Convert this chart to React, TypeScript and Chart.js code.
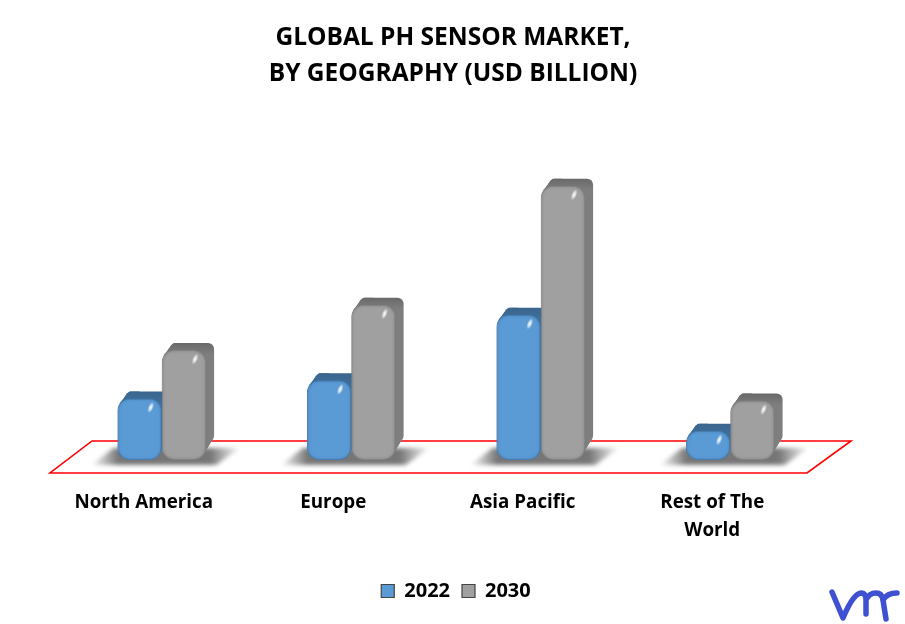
import React, { useEffect, useRef } from "react";
import { Chart, registerables } from "chart.js";

Chart.register(...registerables);

const titleLines = ["GLOBAL PH SENSOR MARKET,", "BY GEOGRAPHY (USD BILLION)"];
const categories: (string | string[])[] = ["North America", "Europe", "Asia Pacific", ["Rest of The", "World"]];
const seriesNames = ["2022", "2030"];
const values2022 = [0.61, 0.79, 1.44, 0.29];
const values2030 = [1.09, 1.54, 2.72, 0.59];
const FONT = "'Open Sans', sans-serif";
const DEPTH = 8;
const DEPTH_Y = 7;
const RADIUS = 12;

const palette = [
  { front: "#5b9bd5", edge: "#4f87ba", side: "#3f6f9b", top: "#3a658d", shade: "rgba(40,90,140,0.35)" },
  { front: "#a0a0a0", edge: "#8f8f8f", side: "#7e7e7e", top: "#696969", shade: "rgba(90,90,90,0.35)" },
];

function rr(ctx: CanvasRenderingContext2D, x: number, y: number, w: number, h: number, r: number) {
  ctx.beginPath();
  ctx.roundRect(x, y, w, h, Math.min(r, w / 2, h / 2));
}

const decor = {
  id: "decor",
  afterLayout(chart: any) {
    // title and legend sit to the right of the plot's centre in the reference
    chart.legend.left += 10;
    chart.legend.right += 10;
    chart.titleBlock.left += 7;
    chart.titleBlock.right += 7;
  },
  beforeDatasetsDraw(chart: any) {
    const { ctx, chartArea: a } = chart;
    const base = a.bottom;
    // floor
    ctx.save();
    ctx.strokeStyle = "#ff0000";
    ctx.lineWidth = 1.6;
    ctx.beginPath();
    ctx.moveTo(a.left + 25, base - 19);
    ctx.lineTo(a.right + 26, base - 19);
    ctx.lineTo(a.right - 18, base + 13);
    ctx.lineTo(a.left - 17, base + 13);
    ctx.closePath();
    ctx.stroke();
    ctx.restore();
    // shadows
    const m0 = chart.getDatasetMeta(0).data;
    const m1 = chart.getDatasetMeta(1).data;
    m0.forEach((b0: any, i: number) => {
      const b1 = m1[i];
      const l = b0.x - b0.width / 2;
      const r = b1.x + b1.width / 2;
      ctx.save();
      ctx.filter = "blur(2px)";
      const g = ctx.createLinearGradient(l - 26, 0, r + 34, 0);
      g.addColorStop(0, "rgba(130,130,130,0.05)");
      g.addColorStop(0.18, "rgba(118,118,118,1)");
      g.addColorStop(0.8, "rgba(118,118,118,1)");
      g.addColorStop(1, "rgba(130,130,130,0.05)");
      ctx.fillStyle = g;
      ctx.beginPath();
      ctx.moveTo(l - 4, base - 12);
      ctx.lineTo(r + 34, base - 12);
      ctx.lineTo(r + 10, base + 5);
      ctx.lineTo(l - 26, base + 5);
      ctx.closePath();
      ctx.fill();
      ctx.restore();
    });
    // extruded depth
    [0, 1].forEach((d) => {
      const p = palette[d];
      chart.getDatasetMeta(d).data.forEach((b: any) => {
        const l = b.x - b.width / 2;
        const h = b.base - b.y;
        const g = ctx.createLinearGradient(0, b.y - DEPTH_Y, 0, b.y + 4);
        g.addColorStop(0, p.top);
        g.addColorStop(1, p.side);
        ctx.fillStyle = g;
        for (let k = DEPTH; k >= 1; k--) {
          rr(ctx, l + k, b.y - (k * DEPTH_Y) / DEPTH, b.width, h - k * 1.4, RADIUS + 2 - k);
          ctx.fill();
        }
        // chamfer from the front's top-left corner to the back face
        ctx.beginPath();
        ctx.moveTo(l + 2, b.y + 5);
        ctx.lineTo(l + 12, b.y - DEPTH_Y);
        ctx.lineTo(l + 22, b.y - DEPTH_Y);
        ctx.lineTo(l + 22, b.y + 5);
        ctx.closePath();
        ctx.fill();
      });
    });
  },
  afterDatasetsDraw(chart: any) {
    const { ctx } = chart;
    [0, 1].forEach((d) => {
      chart.getDatasetMeta(d).data.forEach((b: any) => {
        // soft inner edge
        const l = b.x - b.width / 2;
        const h = b.base - b.y;
        ctx.save();
        rr(ctx, l, b.y, b.width, h, RADIUS);
        ctx.clip();
        ctx.filter = "blur(1.5px)";
        ctx.strokeStyle = palette[d].shade;
        ctx.lineWidth = 2.5;
        rr(ctx, l, b.y, b.width, h, RADIUS);
        ctx.stroke();
        ctx.restore();
        // glint
        const x = b.x + b.width / 2 - 11;
        const y = b.y + 9;
        const g = ctx.createRadialGradient(x, y, 0, x, y, 6);
        g.addColorStop(0, "rgba(255,255,255,1)");
        g.addColorStop(0.5, "rgba(255,255,255,0.6)");
        g.addColorStop(1, "rgba(255,255,255,0)");
        ctx.save();
        ctx.translate(x, y);
        ctx.rotate(0.4);
        ctx.scale(0.45, 1);
        ctx.translate(-x, -y);
        ctx.fillStyle = g;
        ctx.beginPath();
        ctx.arc(x, y, 6, 0, Math.PI * 2);
        ctx.fill();
        ctx.restore();
      });
    });
  },
  afterDraw(chart: any) {
    const { ctx, width, height } = chart;
    // brand mark, bottom right
    ctx.save();
    ctx.translate(width - 76, height - 36);
    ctx.strokeStyle = "#3f51d0";
    ctx.lineWidth = 5.5;
    ctx.lineCap = "round";
    ctx.lineJoin = "round";
    ctx.beginPath();
    ctx.moveTo(3, 4);
    ctx.lineTo(14, 30);
    ctx.quadraticCurveTo(24, 6, 32, 5);
    ctx.quadraticCurveTo(37, 5, 37, 12);
    ctx.lineTo(37, 26);
    ctx.moveTo(37, 12);
    ctx.quadraticCurveTo(40, 5, 47, 5);
    ctx.quadraticCurveTo(53, 5, 54, 12);
    ctx.lineTo(57, 31);
    ctx.moveTo(54, 12);
    ctx.quadraticCurveTo(58, 5, 68, 5);
    ctx.stroke();
    ctx.restore();
  },
};

export default function App() {
  const ref = useRef<HTMLCanvasElement>(null);
  useEffect(() => {
    const chart = new Chart(ref.current!, {
      type: "bar",
      data: {
        labels: categories as any,
        datasets: [
          { label: seriesNames[0], data: values2022, backgroundColor: palette[0].front, borderColor: palette[0].edge, borderWidth: 1, borderRadius: RADIUS, borderSkipped: false },
          { label: seriesNames[1], data: values2030, backgroundColor: palette[1].front, borderColor: palette[1].edge, borderWidth: 1, borderRadius: RADIUS, borderSkipped: false },
        ],
      },
      options: {
        responsive: false,
        animation: false,
        layout: { padding: { left: 67, right: 80, top: 14, bottom: 13 } },
        datasets: { bar: { categoryPercentage: 0.468, barPercentage: 1 } },
        scales: {
          x: {
            grid: { display: false },
            border: { display: false },
            ticks: { color: "#000", font: { family: FONT, size: 18.8, weight: "bold", lineHeight: 1.49 }, labelOffset: -18, padding: 21, maxRotation: 0, autoSkip: false },
            afterFit: (s: any) => { s.height += 3; },
          },
          y: { display: false, min: 0, max: 3.56 },
        },
        plugins: {
          title: {
            display: true,
            text: titleLines,
            color: "#000",
            font: { family: FONT, size: 24.5, weight: "bold", lineHeight: 1.47 },
            padding: { top: 6, bottom: 9 },
          },
          legend: {
            position: "bottom",
            labels: {
              color: "#000",
              font: { family: FONT, size: 20, weight: "bold" },
              boxWidth: 13,
              boxHeight: 13,
              padding: 12,
              generateLabels: () =>
                seriesNames.map((n, i) => ({
                  text: n,
                  fillStyle: palette[i].front,
                  strokeStyle: "#444444",
                  lineWidth: 1.2,
                  fontColor: "#000",
                  datasetIndex: i,
                })),
            },
          },
          tooltip: { enabled: false },
        },
      },
      plugins: [decor],
    } as any);
    return () => chart.destroy();
  }, []);
  return (
    <div style={{ position: "fixed", left: 0, top: 0, width: 905, height: 624, background: "#fff" }}>
      <canvas ref={ref} width={905} height={624} style={{ display: "block" }} />
    </div>
  );
}
